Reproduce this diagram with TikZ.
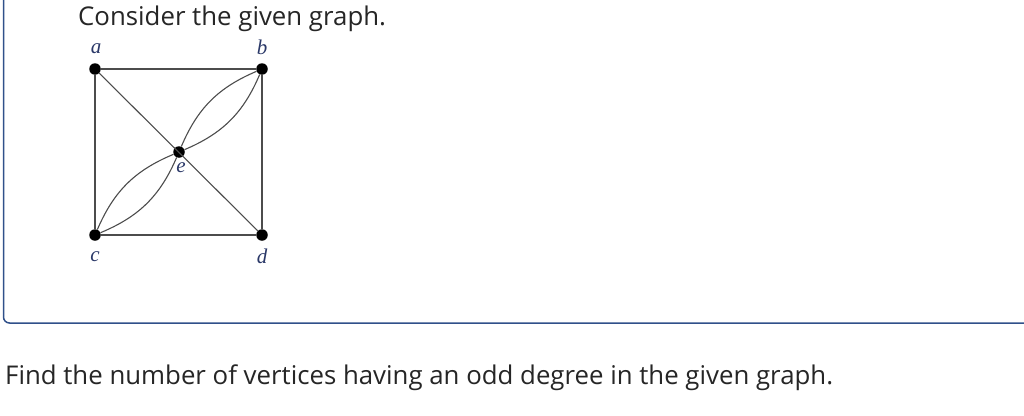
\documentclass[tikz,border=0pt]{standalone}
\usepackage{fontspec}
\setmainfont{Open Sans}
\newfontfamily\lblfont{Liberation Serif}
\definecolor{lblcol}{HTML}{2A3868}
\definecolor{framecol}{HTML}{30508A}
\begin{document}
\begin{tikzpicture}[x=1pt,y=-1pt,
  vtx/.style={circle,fill=black,inner sep=0pt,minimum size=11.5pt},
  edge/.style={draw=black!70,line width=1.1pt},
  lbl/.style={font=\lblfont\itshape\fontsize{21}{21}\selectfont,text=lblcol},
  qtext/.style={font=\fontsize{25.8}{26}\selectfont,text=black!85,anchor=base west,inner sep=0pt}]
\useasboundingbox (0,0) rectangle (1024,415);
\fill[white] (0,0) rectangle (1024,415);
\draw[draw=framecol,line width=1.5pt,rounded corners=6pt] (3.5,-2) -- (3.5,323) -- (1026,323);
\node[qtext] (t1) at (78,25) {Consider the given graph.};
\node[qtext] (t2) at (5,384) {Find the number of vertices having an odd degree in the given graph.};
\node[vtx] (a) at (95,69) {};
\node[vtx] (b) at (262,69) {};
\node[vtx] (c) at (95,235) {};
\node[vtx] (d) at (262,235) {};
\node[vtx] (e) at (179,152) {};
\node[lbl] (la) at (96,49) {a};
\node[lbl] (lb) at (262,47) {b};
\node[lbl] (lc) at (95,257) {c};
\node[lbl] (ld) at (262,256) {d};
\node[lbl] (le) at (181,168) {e};
\draw[edge] (a) -- (b) -- (d) -- (c) -- (a);
\draw[edge] (a) -- (d);
\draw[edge] (e) to[bend left=22] (b);
\draw[edge] (e) to[bend right=22] (b);
\draw[edge] (c) to[bend left=22] (e);
\draw[edge] (c) to[bend right=22] (e);
\end{tikzpicture}
\end{document}
